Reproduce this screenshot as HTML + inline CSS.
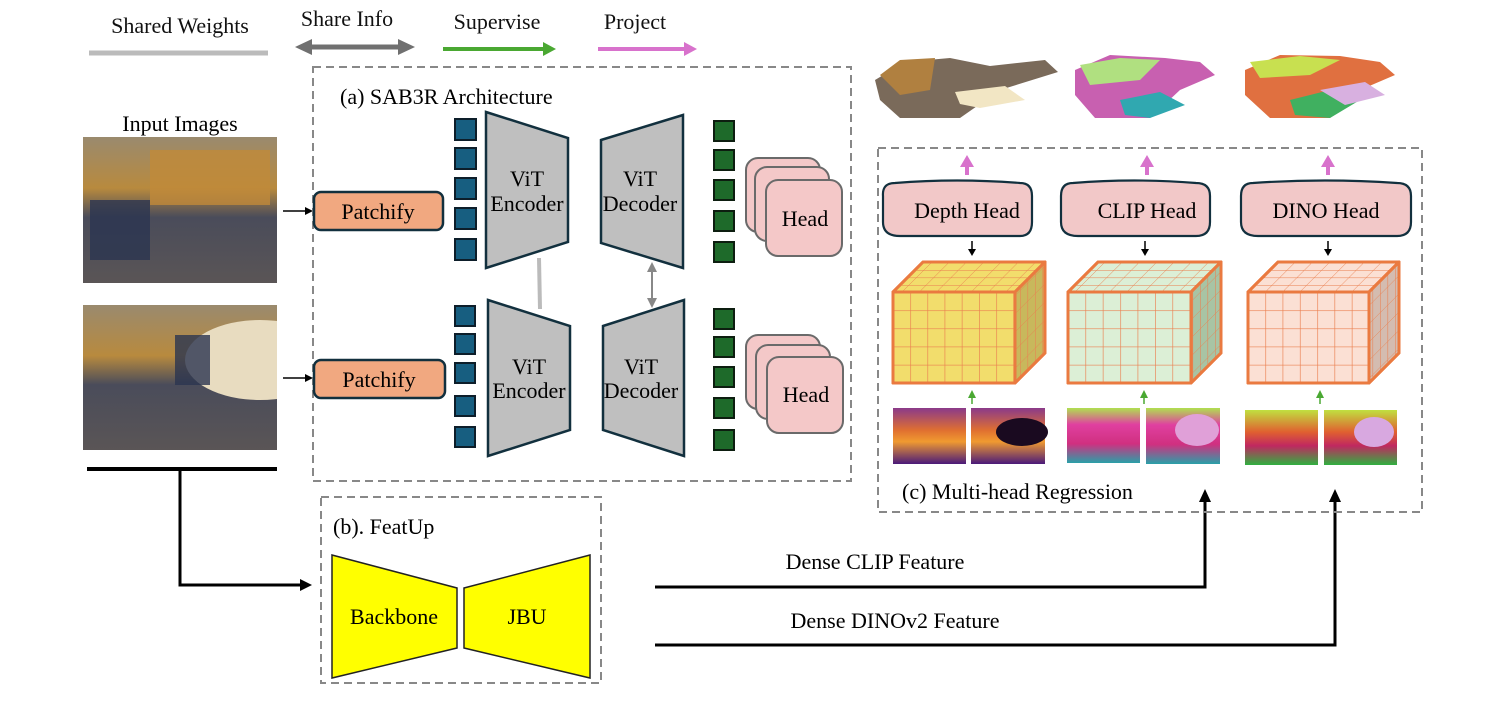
<!DOCTYPE html>
<html><head><meta charset="utf-8"><style>
html,body{margin:0;padding:0;background:#fff;}
svg{display:block;font-family:"Liberation Serif",serif;}
</style></head><body>
<svg width="1504" height="728" viewBox="0 0 1504 728" xmlns="http://www.w3.org/2000/svg">
<defs>
<pattern id="grid" width="17.2" height="18.2" patternUnits="userSpaceOnUse" x="893" y="292"><path d="M0 0H17.2M0 0V18.2" stroke="#ea8050" stroke-width="1.3" fill="none"/></pattern>
<pattern id="grid2" width="17.4" height="18.2" patternUnits="userSpaceOnUse" x="1068" y="292"><path d="M0 0H17.4M0 0V18.2" stroke="#ea8050" stroke-width="1.3" fill="none"/></pattern>
<pattern id="grid3" width="17.3" height="18.2" patternUnits="userSpaceOnUse" x="1248" y="292"><path d="M0 0H17.3M0 0V18.2" stroke="#ea8050" stroke-width="1.3" fill="none"/></pattern>
<pattern id="gtop" width="17.3" height="7.5" patternUnits="userSpaceOnUse" patternTransform="skewX(-45)"><path d="M0 0H17.3M0 0V7.5" stroke="#ea8050" stroke-width="1.1" fill="none"/></pattern>
<pattern id="gside" width="7.5" height="18.2" patternUnits="userSpaceOnUse" patternTransform="skewY(-45)"><path d="M0 0H7.5M0 0V18.2" stroke="#ea8050" stroke-width="1.1" fill="none"/></pattern>
<clipPath id="c1"><rect x="83" y="137" width="194" height="146"/></clipPath>
<clipPath id="c2"><rect x="83" y="305" width="194" height="145"/></clipPath>
<linearGradient id="room" x1="0" y1="0" x2="0" y2="1"><stop offset="0" stop-color="#9a8a6e"/><stop offset="0.35" stop-color="#b88a3e"/><stop offset="0.55" stop-color="#4a4c5a"/><stop offset="1" stop-color="#5a5556"/></linearGradient>
<linearGradient id="depth" x1="0" y1="0" x2="0" y2="1"><stop offset="0" stop-color="#8a3a8a"/><stop offset="0.4" stop-color="#e07030"/><stop offset="0.6" stop-color="#f09a30"/><stop offset="1" stop-color="#4a1a7a"/></linearGradient>
<linearGradient id="clipf" x1="0" y1="0" x2="0" y2="1"><stop offset="0" stop-color="#b0e050"/><stop offset="0.3" stop-color="#e040a0"/><stop offset="0.65" stop-color="#d03080"/><stop offset="1" stop-color="#2aa0a8"/></linearGradient>
<linearGradient id="dinof" x1="0" y1="0" x2="0" y2="1"><stop offset="0" stop-color="#c0e040"/><stop offset="0.4" stop-color="#e06030"/><stop offset="0.65" stop-color="#c02860"/><stop offset="1" stop-color="#30b040"/></linearGradient>
</defs>

<!-- legend -->
<g font-size="22" fill="#111">
<text x="180" y="33" text-anchor="middle">Shared Weights</text>
<text x="347" y="26" text-anchor="middle">Share Info</text>
<text x="497" y="29" text-anchor="middle">Supervise</text>
<text x="635" y="29" text-anchor="middle">Project</text>
</g>
<line x1="89" y1="53" x2="268" y2="53" stroke="#bbb" stroke-width="5"/>
<line x1="308" y1="47" x2="402" y2="47" stroke="#707070" stroke-width="5"/>
<path d="M295 47L312 39L312 55z" fill="#707070"/><path d="M415 47L398 39L398 55z" fill="#707070"/>
<line x1="443" y1="49" x2="545" y2="49" stroke="#4aa832" stroke-width="4"/>
<path d="M543 42L556 49L543 56z" fill="#4aa832"/>
<line x1="598" y1="49" x2="686" y2="49" stroke="#d872cc" stroke-width="4"/>
<path d="M684 42L697 49L684 56z" fill="#d872cc"/>

<!-- input images -->
<text x="180" y="131" font-size="22" text-anchor="middle">Input Images</text>
<g clip-path="url(#c1)">
<rect x="83" y="137" width="194" height="146" fill="url(#room)"/>
<rect x="150" y="150" width="120" height="55" fill="#c08a3a" opacity="0.8"/>
<rect x="90" y="200" width="60" height="60" fill="#2a3450" opacity="0.8"/>
</g>
<g clip-path="url(#c2)">
<rect x="83" y="305" width="194" height="145" fill="url(#room)"/>
<ellipse cx="260" cy="360" rx="75" ry="40" fill="#e8dcc0"/>
<rect x="175" y="335" width="35" height="50" fill="#2a3450" opacity="0.8"/>
</g>
<line x1="87" y1="469" x2="277" y2="469" stroke="#000" stroke-width="4"/>
<path d="M180 469V585H302" fill="none" stroke="#000" stroke-width="3"/>
<path d="M300 579L312 585L300 591z" fill="#000"/>
<line x1="283" y1="211" x2="306" y2="211" stroke="#000" stroke-width="1.5"/><path d="M305 207L313 211L305 215z"/>
<line x1="283" y1="378" x2="306" y2="378" stroke="#000" stroke-width="1.5"/><path d="M305 374L313 378L305 382z"/>

<!-- (a) -->
<rect x="313" y="67" width="538" height="414" fill="none" stroke="#888" stroke-width="2" stroke-dasharray="8,5"/>
<text x="340" y="104" font-size="22">(a) SAB3R Architecture</text>
<g stroke="#12303e" stroke-width="2.5">
<rect x="314" y="192" width="129" height="38" rx="7" fill="#f1a880"/>
<rect x="314" y="360" width="131" height="38" rx="7" fill="#f1a880"/>
<polygon points="486,112 568,138 568,242 486,268" fill="#bfbfbf"/>
<polygon points="601,140 683,115 683,268 601,243" fill="#bfbfbf"/>
<polygon points="488,300 570,326 570,430 488,456" fill="#bfbfbf"/>
<polygon points="603,326 684,300 684,456 603,430" fill="#bfbfbf"/>
</g>
<g font-size="22" text-anchor="middle">
<text x="378" y="219">Patchify</text><text x="379" y="387">Patchify</text>
<text x="527" y="186">ViT</text><text x="527" y="211">Encoder</text>
<text x="640" y="186">ViT</text><text x="640" y="211">Decoder</text>
<text x="529" y="374">ViT</text><text x="529" y="398">Encoder</text>
<text x="641" y="374">ViT</text><text x="641" y="398">Decoder</text>
</g>
<g fill="#175e80" stroke="#0d1e2a" stroke-width="2">
<rect x="455" y="119" width="21" height="21"/><rect x="455" y="148" width="21" height="21"/><rect x="455" y="178" width="21" height="21"/><rect x="455" y="208" width="21" height="21"/><rect x="455" y="239" width="21" height="21"/>
<rect x="455" y="306" width="20" height="20"/><rect x="455" y="334" width="20" height="20"/><rect x="455" y="363" width="20" height="20"/><rect x="455" y="396" width="20" height="20"/><rect x="455" y="427" width="20" height="20"/>
</g>
<g fill="#1e6a2a" stroke="#0d1e10" stroke-width="2">
<rect x="714" y="121" width="20" height="20"/><rect x="714" y="150" width="20" height="20"/><rect x="714" y="180" width="20" height="20"/><rect x="714" y="211" width="20" height="20"/><rect x="714" y="242" width="20" height="20"/>
<rect x="714" y="309" width="20" height="20"/><rect x="714" y="337" width="20" height="20"/><rect x="714" y="367" width="20" height="20"/><rect x="714" y="398" width="20" height="20"/><rect x="714" y="430" width="20" height="20"/>
</g>
<g fill="#f4c8c8" stroke="#6a6a6a" stroke-width="2">
<rect x="746" y="158" width="74" height="74" rx="12"/><rect x="755" y="167" width="74" height="74" rx="12"/><rect x="766" y="180" width="76" height="76" rx="12"/>
<rect x="746" y="335" width="74" height="74" rx="12"/><rect x="756" y="345" width="74" height="74" rx="12"/><rect x="767" y="357" width="76" height="76" rx="12"/>
</g>
<text x="805" y="226" font-size="22" text-anchor="middle">Head</text>
<text x="806" y="402" font-size="22" text-anchor="middle">Head</text>
<line x1="539" y1="258" x2="540" y2="309" stroke="#bbb" stroke-width="4"/>
<line x1="652" y1="270" x2="652" y2="300" stroke="#888" stroke-width="2"/>
<path d="M647 272L652 262L657 272z" fill="#888"/><path d="M647 298L652 308L657 298z" fill="#888"/>

<!-- (b) -->
<rect x="321" y="497" width="280" height="186" fill="none" stroke="#888" stroke-width="2" stroke-dasharray="8,5"/>
<text x="333" y="534" font-size="22">(b). FeatUp</text>
<g fill="#ffff00" stroke="#222" stroke-width="1.5">
<polygon points="332,555 457,588 457,648 332,678"/>
<polygon points="464,588 590,555 590,678 464,648"/>
</g>
<text x="394" y="624" font-size="22" text-anchor="middle">Backbone</text>
<text x="527" y="624" font-size="22" text-anchor="middle">JBU</text>
<text x="875" y="569" font-size="22" text-anchor="middle">Dense CLIP Feature</text>
<text x="895" y="628" font-size="22" text-anchor="middle">Dense DINOv2 Feature</text>
<path d="M655 587H1205V500" fill="none" stroke="#000" stroke-width="3"/>
<path d="M1199 502L1205 489L1211 502z"/>
<path d="M655 645H1335V500" fill="none" stroke="#000" stroke-width="3"/>
<path d="M1329 502L1335 489L1341 502z"/>

<!-- (c) -->
<rect x="878" y="148" width="544" height="364" fill="none" stroke="#888" stroke-width="2" stroke-dasharray="8,5"/>
<text x="902" y="499" font-size="22">(c) Multi-head Regression</text>
<!-- top point cloud images -->
<g>
<path d="M875 80L905 62L950 58L990 66L1045 60L1058 72L1000 90L960 118L900 118L880 100z" fill="#7a6a5a"/>
<path d="M880 75L900 60L935 58L930 90L900 95z" fill="#b08040"/>
<path d="M955 92L1005 86L1025 100L980 108L960 104z" fill="#f2e6c4"/>
<path d="M1075 70L1110 55L1165 58L1200 62L1215 75L1180 90L1150 118L1095 118L1075 95z" fill="#c860b0"/>
<path d="M1080 65L1120 58L1160 60L1140 80L1090 85z" fill="#b0e080"/>
<path d="M1120 100L1160 92L1185 105L1150 118L1125 115z" fill="#30a8b0"/>
<path d="M1245 70L1280 55L1340 56L1380 62L1395 75L1360 90L1330 118L1270 118L1245 95z" fill="#e07040"/>
<path d="M1250 62L1300 56L1340 60L1310 75L1260 78z" fill="#c8e050"/>
<path d="M1290 100L1330 90L1360 100L1330 118L1295 115z" fill="#40b060"/>
<path d="M1320 90L1365 82L1385 95L1345 105z" fill="#d8b0e0"/>
</g>
<g fill="#d872cc">
<rect x="965" y="165" width="4" height="10"/><path d="M960 167L967 155L974 167z"/>
<rect x="1145" y="165" width="4" height="10"/><path d="M1140 167L1147 155L1154 167z"/>
<rect x="1326" y="165" width="4" height="10"/><path d="M1321 167L1328 155L1335 167z"/>
</g>
<g fill="#f2c8c8" stroke="#12303e" stroke-width="2.2">
<path d="M895 183Q882 183 883 196V222Q883 236 900 236H1020Q1032 236 1032 222V196Q1032 183 1020 183Q957 178 895 183z"/>
<path d="M1073 183Q1061 183 1061 196V222Q1061 236 1078 236H1196Q1210 236 1210 222V196Q1210 183 1196 183Q1134 178 1073 183z"/>
<path d="M1253 183Q1241 183 1241 196V222Q1241 236 1258 236H1397Q1411 236 1411 222V196Q1411 183 1397 183Q1325 178 1253 183z"/>
</g>
<g font-size="22" text-anchor="middle">
<text x="967" y="218">Depth Head</text><text x="1147" y="218">CLIP Head</text><text x="1326" y="218">DINO Head</text>
</g>
<g stroke="#000" stroke-width="1.5">
<line x1="972" y1="241" x2="972" y2="250"/><line x1="1145" y1="241" x2="1145" y2="250"/><line x1="1328" y1="241" x2="1328" y2="250"/>
</g>
<path d="M968 249L972 256L976 249z"/><path d="M1141 249L1145 256L1149 249z"/><path d="M1324 249L1328 256L1332 249z"/>
<!-- cubes: front y 292-383, depth 30 -->
<g stroke="#ea7a40" stroke-width="3" stroke-linejoin="round">
<polygon points="893,292 923,262 1045,262 1015,292" fill="#f2dd6c"/>
<polygon points="1015,292 1045,262 1045,353 1015,383" fill="#c8b85c"/>
<rect x="893" y="292" width="122" height="91" fill="#f2dd6c"/>
<polygon points="1068,292 1098,262 1221,262 1191,292" fill="#dcefd6"/>
<polygon points="1191,292 1221,262 1221,353 1191,383" fill="#a8c4a4"/>
<rect x="1068" y="292" width="123" height="91" fill="#dcefd6"/>
<polygon points="1248,292 1278,262 1399,262 1369,292" fill="#fbe0d4"/>
<polygon points="1369,292 1399,262 1399,353 1369,383" fill="#d4bcb0"/>
<rect x="1248" y="292" width="121" height="91" fill="#fbe0d4"/>
</g>
<g>
<rect x="893" y="292" width="122" height="91" fill="url(#grid)"/>
<rect x="1068" y="292" width="123" height="91" fill="url(#grid2)"/>
<rect x="1248" y="292" width="121" height="91" fill="url(#grid3)"/>
<polygon points="893,292 923,262 1045,262 1015,292" fill="url(#gtop)"/>
<polygon points="1068,292 1098,262 1221,262 1191,292" fill="url(#gtop)"/>
<polygon points="1248,292 1278,262 1399,262 1369,292" fill="url(#gtop)"/>
<polygon points="1015,292 1045,262 1045,353 1015,383" fill="url(#gside)"/>
<polygon points="1191,292 1221,262 1221,353 1191,383" fill="url(#gside)"/>
<polygon points="1369,292 1399,262 1399,353 1369,383" fill="url(#gside)"/>
</g>
<g fill="none" stroke="#ea7a40" stroke-width="3" stroke-linejoin="round">
<polygon points="893,292 923,262 1045,262 1045,353 1015,383 893,383"/><path d="M893 292H1015V383M1015 292L1045 262"/>
<polygon points="1068,292 1098,262 1221,262 1221,353 1191,383 1068,383"/><path d="M1068 292H1191V383M1191 292L1221 262"/>
<polygon points="1248,292 1278,262 1399,262 1399,353 1369,383 1248,383"/><path d="M1248 292H1369V383M1369 292L1399 262"/>
</g>
<g stroke="#4aa832" stroke-width="1.5">
<line x1="972" y1="404" x2="972" y2="395"/><line x1="1144" y1="404" x2="1144" y2="395"/><line x1="1320" y1="404" x2="1320" y2="395"/>
</g>
<g fill="#4aa832"><path d="M968 398L972 390L976 398z"/><path d="M1140 398L1144 390L1148 398z"/><path d="M1316 398L1320 390L1324 398z"/></g>
<rect x="893" y="408" width="73" height="56" fill="url(#depth)"/>
<rect x="971" y="408" width="74" height="56" fill="url(#depth)"/>
<ellipse cx="1022" cy="432" rx="26" ry="14" fill="#1a0a20"/>
<rect x="1067" y="408" width="73" height="55" fill="url(#clipf)"/>
<rect x="1146" y="408" width="74" height="56" fill="url(#clipf)"/>
<ellipse cx="1197" cy="430" rx="22" ry="16" fill="#e0a0d8"/>
<rect x="1245" y="410" width="73" height="55" fill="url(#dinof)"/>
<rect x="1324" y="410" width="73" height="55" fill="url(#dinof)"/>
<ellipse cx="1374" cy="432" rx="20" ry="15" fill="#d8a8e0"/>
</svg>
</body></html>
